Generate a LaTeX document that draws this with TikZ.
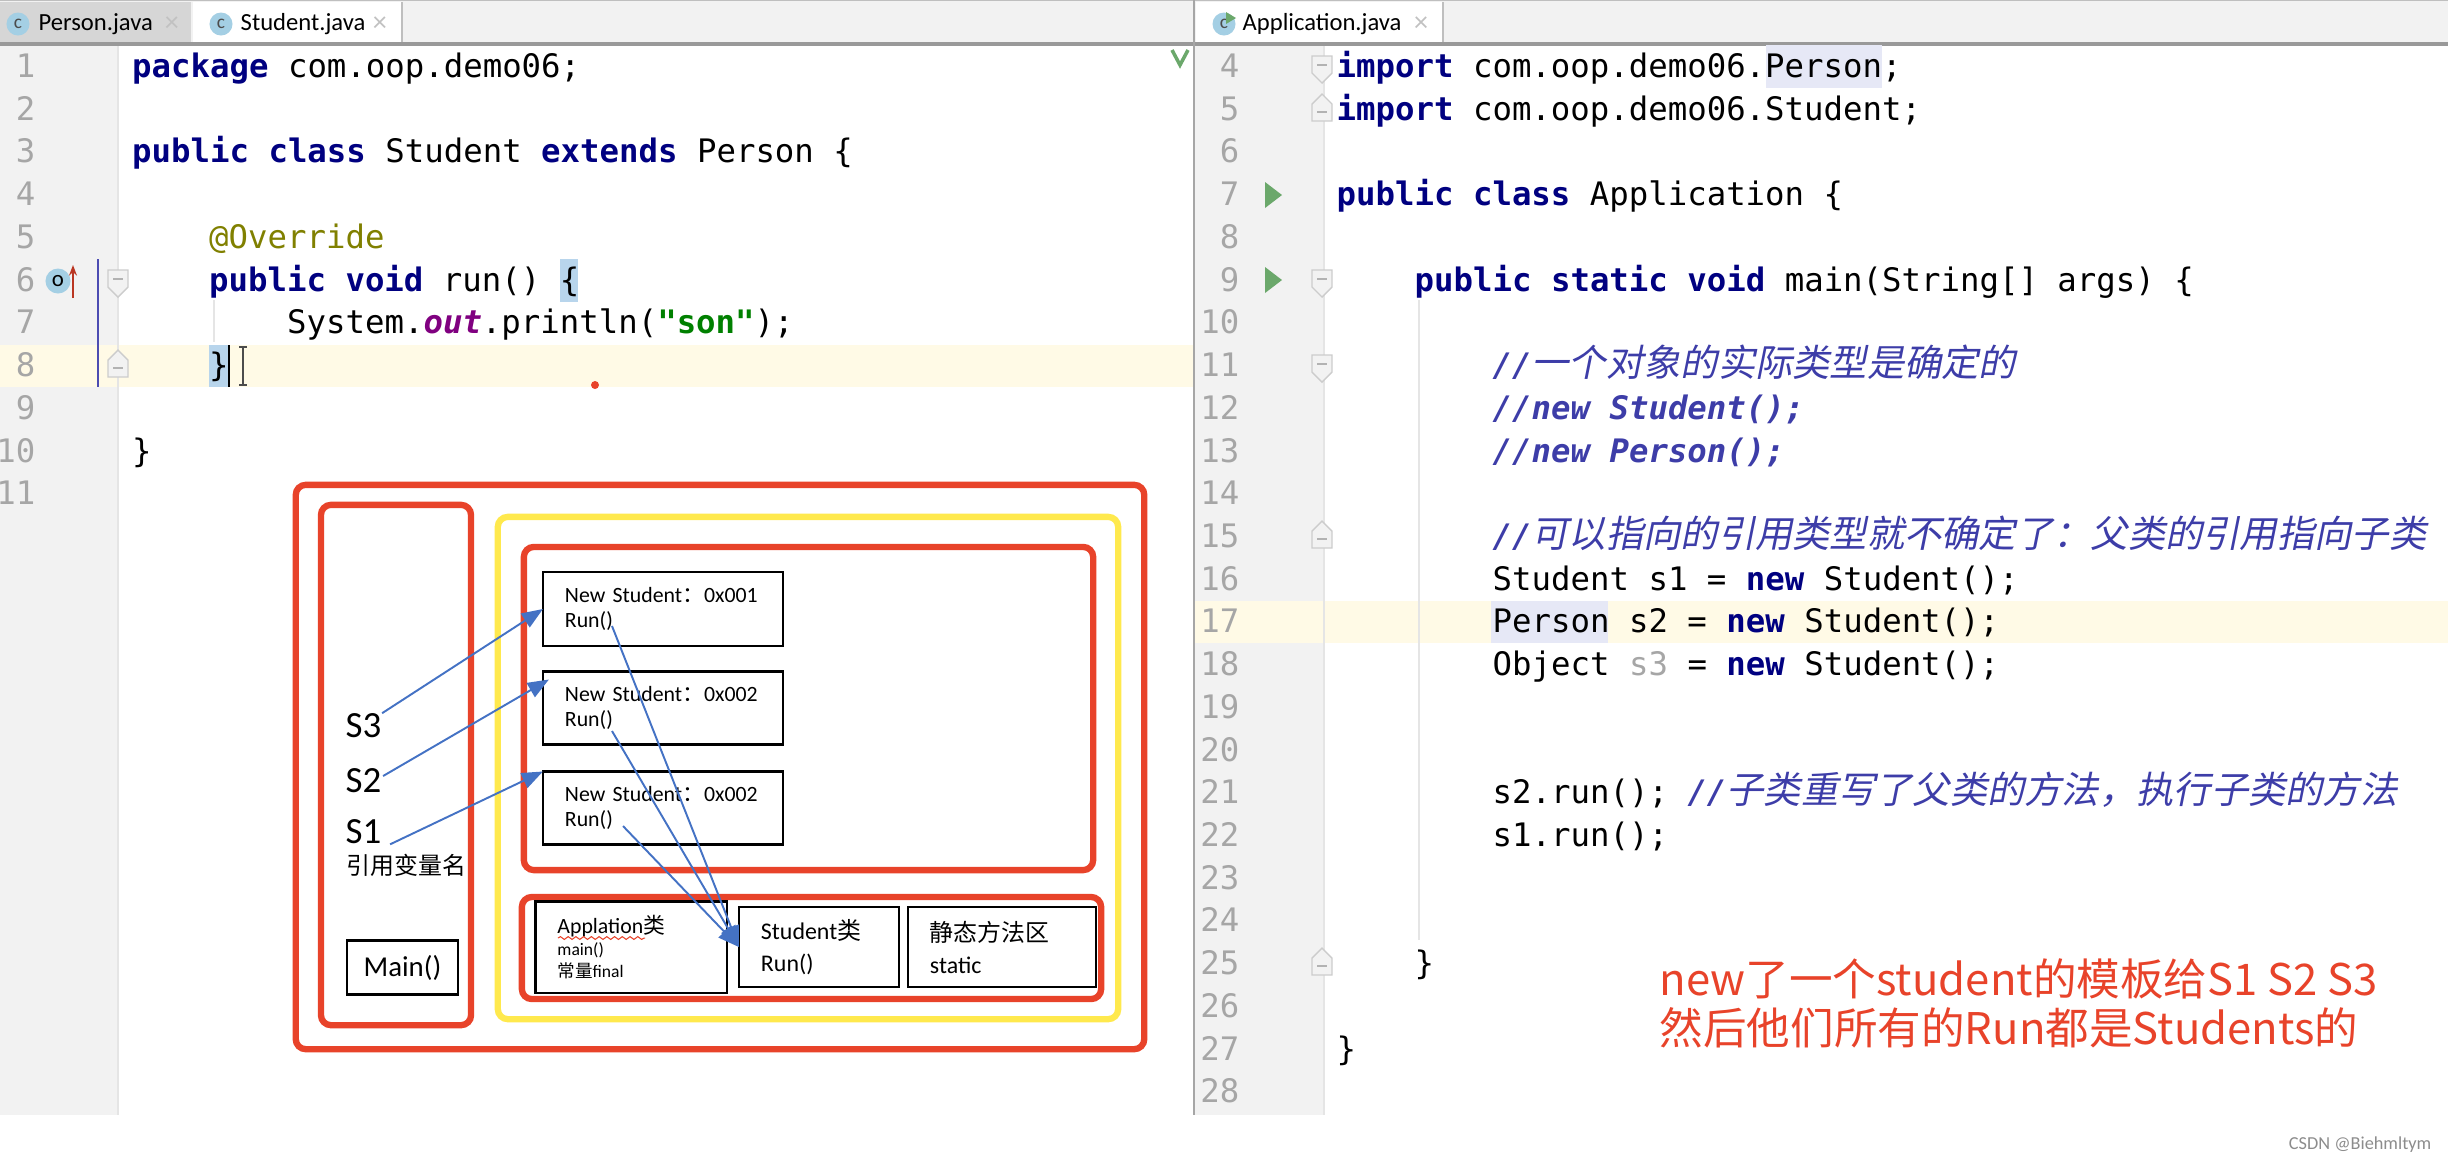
\documentclass[tikz,border=0pt]{standalone}
\usepackage{fontspec}
\setmainfont{Carlito}
\newfontfamily\codefont{DejaVu Sans Mono}
\newfontfamily\cjk[AutoFakeSlant=0.2]{Noto Sans CJK SC}
\usetikzlibrary{positioning, arrows.meta, decorations.pathmorphing}
\definecolor{framered}{HTML}{E8432A}
\definecolor{frameyellow}{HTML}{FFE94D}
\definecolor{arrowblue}{HTML}{4472C4}
\definecolor{gutter}{HTML}{F2F2F2}
\definecolor{linegray}{HTML}{A6A6A6}
\definecolor{kwblue}{HTML}{000080}
\definecolor{cmtblue}{HTML}{3D3DA8}
\definecolor{annot}{HTML}{808000}
\definecolor{caretline}{HTML}{FFFAE6}
\definecolor{braceblue}{HTML}{B8D5EC}
\definecolor{usedblue}{HTML}{E6E8F6}
\definecolor{iconblue}{HTML}{A4CFE4}
\definecolor{rungreen}{HTML}{6BA86B}
\newcommand{\kw}[1]{\textcolor{kwblue}{\bfseries #1}}
\newcommand{\zh}[1]{{\cjk #1}}
\newcommand{\zhcmt}[1]{{\cjk\mdseries\itshape\fontsize{10.6}{11}\selectfont #1}}
\newcommand{\cmt}[1]{\textcolor{cmtblue}{\bfseries\itshape #1}}

\begin{document}
\begin{tikzpicture}[
		x=0.01cm, y=-0.01cm,
		code/.style={anchor=base west, inner sep=0, font=\codefont\fontsize{9.2}{11}\selectfont},
		lineno/.style={anchor=base east, inner sep=0, text=linegray, font=\codefont\fontsize{9.2}{11}\selectfont},
		tabtext/.style={anchor=west, inner sep=0, font=\fontsize{7}{8}\selectfont},
		closex/.style={inner sep=0, text=linegray!70, font=\fontsize{8}{8}\selectfont},
		icon/.style={circle, fill=iconblue, inner sep=0, minimum size=0.23cm, text=black!70, font=\fontsize{5.5}{6}\selectfont},
		frame/.style={draw=framered, line width=1.8pt, rectangle, rounded corners=0.1cm, outer sep=0},
		box/.style={draw, rectangle, line width=0.6pt, outer sep=0, inner xsep=0.22cm, inner ysep=0, align=left},
		smalltext/.style={font=\fontsize{6.2}{6.9}\selectfont},
		midtext/.style={font=\fontsize{6.8}{9.1}\selectfont},
		refname/.style={anchor=west, inner sep=0, font=\fontsize{10.5}{11}\selectfont},
		refarrow/.style={draw=arrowblue, line width=0.55pt, -{Triangle[length=6pt, width=4.6pt, fill=arrowblue]}},
		foldmark/.pic={
			\draw[fill=gutter, draw=black!20, line width=0.4pt] (-10,-11) -- (10,-11) -- (10,6) -- (0,16) -- (-10,6) -- cycle;
			\draw[black!30, line width=0.4pt] (-5,-2) -- (5,-2);
		},
	]
	\useasboundingbox (0,0) rectangle (2448,1162);

	\fill[gutter] (0,0) rectangle (2448,43);
	\fill[black!16] (0,2) rectangle (191,43);
	\fill[white] (193,2) rectangle (402,43);
	\fill[white] (1196,2) rectangle (1443,43);
	\draw[black!25, line width=0.5pt] (0,0.5) -- (2448,0.5);
	\draw[black!25, line width=0.4pt] (402,2) -- (402,43);
	\draw[black!25, line width=0.4pt] (1443,2) -- (1443,43);
	\draw[black!40, line width=0.9pt] (0,44) -- (2448,44);

	\fill[gutter] (0,46) rectangle (118,1115);
	\fill[gutter] (1194,46) rectangle (1324,1115);
	\fill[caretline] (0,345) rectangle (1194,387);
	\fill[caretline] (1194,601) rectangle (2448,643);
	\fill[braceblue] (560,259) rectangle (578,302);
	\fill[braceblue] (209,345) rectangle (229,387);
	\fill[usedblue] (1766,45) rectangle (1882,88);
	\fill[usedblue] (1491,601) rectangle (1608,643);
	\draw[black!10, line width=0.4pt] (118,46) -- (118,1115);
	\draw[black!10, line width=0.4pt] (1324,46) -- (1324,1115);
	\draw[black!35, line width=0.5pt] (1194,0) -- (1194,1115);
	\draw[black!10, line width=0.4pt] (214,300) -- (214,342);
	\draw[black!10, line width=0.4pt] (1419,300) -- (1419,940);
	\draw[blue!40!gray, line width=0.5pt] (98,259) -- (98,387);

	\node[icon] (iconperson) at (18,24) {c};
	\node[tabtext] (tabperson) at (38,24) {Person.java};
	\node[closex] (closeperson) at (172,24) {×};
	\node[icon] (iconstudent) at (221,24) {c};
	\node[tabtext] (tabstudent) at (240,24) {Student.java};
	\node[closex] (closestudent) at (380,24) {×};
	\node[icon] (iconapp) at (1224,24) {c};
	\fill[rungreen] (1226,12) -- (1236,18) -- (1226,24) -- cycle;
	\node[tabtext] (tabapp) at (1242,24) {Application.java};
	\node[closex] (closeapp) at (1421,24) {×};

	\foreach \n in {1,...,11}
		\node[lineno] (numl\n) at (36,{77.5+42.72*(\n-1)}) {\n};
	\foreach \n in {4,...,28}
		\node[lineno] (numr\n) at (1240,{77.5+42.72*(\n-4)}) {\n};

	\foreach \n/\x/\txt in {
		1/131.5/{\kw{package} com.oop.demo06;},
		3/131.5/{\kw{public class} Student \kw{extends} Person \{},
		5/208.5/{\textcolor{annot}{@Override}},
		6/208.5/{\kw{public void} run() \{},
		7/286.5/{System.\textcolor{violet}{\bfseries\itshape out}.println(\textcolor{green!50!black}{\bfseries "son"});},
		8/208.5/{\}},
		10/131.5/{\}}}
		\node[code] (codel\n) at (\x,{77.5+42.72*(\n-1)}) {\txt};

	\foreach \n/\x/\txt in {
		4/1336/{\kw{import} com.oop.demo06.Person;},
		5/1336/{\kw{import} com.oop.demo06.Student;},
		7/1336/{\kw{public class} Application \{},
		9/1414/{\kw{public static void} main(String[] args) \{},
		11/1492/{\cmt{//\zhcmt{一个对象的实际类型是确定的}}},
		12/1492/{\cmt{//new Student();}},
		13/1492/{\cmt{//new Person();}},
		15/1492/{\cmt{//\zhcmt{可以指向的引用类型就不确定了：父类的引用指向子类}}},
		16/1492/{Student s1 = \kw{new} Student();},
		17/1492/{Person s2 = \kw{new} Student();},
		18/1492/{Object \textcolor{linegray}{s3} = \kw{new} Student();},
		21/1492/{s2.run(); \cmt{//\zhcmt{子类重写了父类的方法，执行子类的方法}}},
		22/1492/{s1.run();},
		25/1414/{\}},
		27/1336/{\}}}
		\node[code] (coder\n) at (\x,{77.5+42.72*(\n-4)}) {\txt};

	\foreach \y/\s in {281/1, 366/-1}
		\pic[yscale=\s] at (118,\y) {foldmark};
	\foreach \y/\s in {67/1, 110/-1, 281/1, 366/1, 537/-1, 964/-1}
		\pic[yscale=\s] at (1322,\y) {foldmark};
	\foreach \y in {195,280}
		\fill[rungreen] (1265,\y) ++(0,-13) -- ++(17,13) -- ++(-17,13) -- cycle;

	\node[circle, fill=iconblue, inner sep=0, minimum size=0.25cm, font=\fontsize{6.5}{7}\selectfont] (overrideicon) at (58,281) {o};
	\draw[framered!80!black, line width=0.6pt, -{Stealth[length=3pt]}] (73,298) -- (73,265);
	\draw[black, line width=0.6pt] (229,345) -- (229,387);
	\draw[black!70, line width=0.4pt] (239,347) -- (247,347) (243,347) -- (243,385) (239,385) -- (247,385);
	\fill[framered] (595,385) circle (4);
	\draw[rungreen, line width=1pt] (1172,50) -- (1180,65) -- (1188,50);

	\node[frame, minimum width=8.48cm, minimum height=5.64cm] (memory) at (720,767) {};
	\node[frame, minimum width=1.50cm, minimum height=5.20cm] (stack) at (396,765) {};
	\node[frame, draw=frameyellow, minimum width=6.20cm, minimum height=5.02cm] (heap) at (808,768) {};
	\node[frame, minimum width=5.69cm, minimum height=3.23cm] (objects) at (808.5,708.5) {};
	\node[frame, minimum width=5.79cm, minimum height=1.02cm] (methodarea) at (811.5,948) {};

	\node[box, smalltext, text width=1.96cm, minimum height=0.74cm] (nsa) at (663,609) {New Student\zh{：}0x001\\Run()};
	\node[box, smalltext, text width=1.96cm, minimum height=0.73cm] (nsb) at (663,708) {New Student\zh{：}0x002\\Run()};
	\node[box, smalltext, text width=1.96cm, minimum height=0.73cm] (nsc) at (663,808) {New Student\zh{：}0x002\\Run()};

	\node[box, text width=1.47cm, minimum height=0.91cm, font=\fontsize{5}{6.3}\selectfont] (appclass) at (631,947) {{\fontsize{6.2}{6.3}\selectfont Applation\zh{类}}\\main()\\\zh{常量}final};
	\draw[framered, line width=0.3pt, decorate, decoration={snake, amplitude=0.4pt, segment length=2.2pt}] (558,938) -- (645,938);
	\node[box, midtext, text width=1.16cm, minimum height=0.80cm] (studentclass) at (819,947) {Student\zh{类}\\Run()};
	\node[box, midtext, text width=1.44cm, minimum height=0.80cm] (staticarea) at (1002,947) {\zh{静态方法区}\\static};
	\node[box, align=center, minimum width=1.11cm, minimum height=0.54cm, inner xsep=0, font=\fontsize{8.2}{10}\selectfont] (mainbox) at (402.5,967.5) {Main()};

	\node[refname] (sthree) at (345,726) {S3};
	\node[refname] (stwo) at (345,781) {S2};
	\node[refname] (sone) at (345,831.5) {S1};
	\node[anchor=west, inner sep=0, font=\cjk\fontsize{6.8}{8}\selectfont] (refcaption) at (346,865) {引用变量名};

	\coordinate (runa) at (612,626);
	\coordinate (runb) at (612,731);
	\coordinate (runc) at (623,826);

	\draw[refarrow] (sthree.north east) -- (nsa.west);
	\draw[refarrow] ([shift={(1,-5)}]stwo.east) -- ([shift={(6,8)}]nsb.north west);
	\draw[refarrow] ([xshift=0.08cm]sone.south east) -- (nsc.north west);
	\foreach \i in {runa, runb, runc}
		\draw[refarrow] (\i) -- (studentclass.west);

	\node[anchor=west, inner sep=0, align=left, text=framered, font=\cjk\fontsize{12.4}{13.9}\selectfont] (note) at (1659,1003) {new了一个student的模板给S1 S2 S3\\然后他们所有的Run都是Students的};
	\node[anchor=east, inner sep=0, text=black!45, font=\fontsize{5.2}{6}\selectfont] (mark) at (2432,1145) {CSDN @Biehmltym};
\end{tikzpicture}
\end{document}
